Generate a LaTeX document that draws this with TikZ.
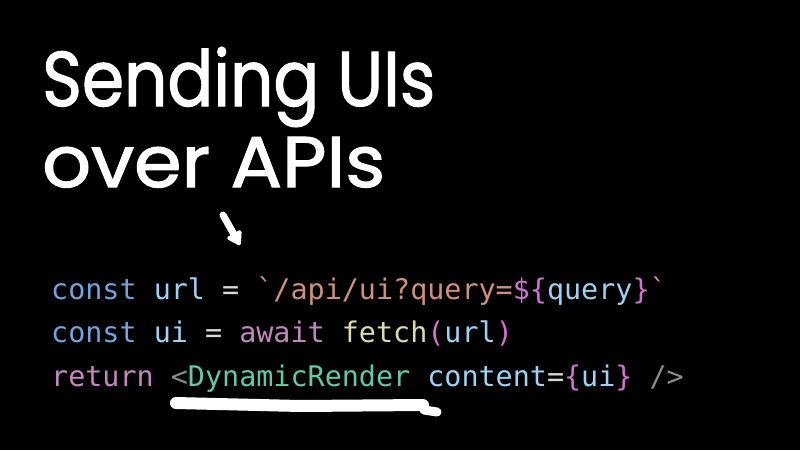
\documentclass[tikz,border=0pt]{standalone}
\usepackage{graphicx}
\usepackage{fontspec}
\setmonofont{DejaVu Sans Mono}
\newfontfamily\handfont{Poppins}[FakeBold=1.6]
\usetikzlibrary{arrows.meta}
\definecolor{ckw}{HTML}{6FA5DC}
\definecolor{cvar}{HTML}{9CD3F5}
\definecolor{cop}{HTML}{D8D8D8}
\definecolor{cstr}{HTML}{CE9178}
\definecolor{cmag}{HTML}{D46FD6}
\definecolor{cctl}{HTML}{C586C0}
\definecolor{cfn}{HTML}{DCDCAA}
\definecolor{cpunc}{HTML}{8A8A8A}
\definecolor{ctag}{HTML}{5EC9AC}
\begin{document}
\begin{tikzpicture}[x=1pt,y=-1pt,
  code/.style={anchor=base west,inner sep=0pt,font=\ttfamily\fontsize{28.4}{30}\selectfont},
  title/.style={anchor=base west,inner sep=0pt,text=white,font=\handfont},
  mark stroke/.style={white,line cap=round,line join=round}]
\fill[black] (0,0) rectangle (800,450);
\useasboundingbox (0,0) rectangle (800,450);
\node[title] (t1) at (42,106) {\resizebox{393pt}{59pt}{Sending UIs}};
\node[title] (t2) at (42,187) {\resizebox{343pt}{50pt}{over APIs}};
\coordinate (arA) at (223,215);
\coordinate (arB) at (240,245);
\draw[mark stroke,line width=7pt,-{Triangle[length=15pt,width=18pt,round]}] (arA) -- (arB);
\node[code] (l1) at (51,299) {\color{ckw}const {\color{cvar}url} {\color{cop}=} {\color{cstr}\char96/api/ui?query=}{\color{cmag}\$\{}{\color{cvar}query}{\color{cmag}\}}{\color{cstr}\char96}};
\node[code] (l2) at (51,342) {\color{ckw}const {\color{cvar}ui} {\color{cop}=} {\color{cctl}await} {\color{cfn}fetch}{\color{cmag}(}{\color{cvar}url}{\color{cmag})}};
\node[code] (l3) at (51,386) {\color{cctl}return {\color{cpunc}<}{\color{ctag}DynamicRender} {\color{cvar}content}{\color{cop}=}{\color{cmag}\{}{\color{cvar}ui}{\color{cmag}\}} {\color{cpunc}/>}};
\coordinate (u1) at (176,403);
\coordinate (u2) at (300,406);
\coordinate (u3) at (423,405);
\coordinate (u4) at (424,410);
\coordinate (u5) at (437,412);
\draw[mark stroke,line width=12pt] (u1) -- (u2) -- (u3);
\draw[mark stroke,line width=9pt] (u4) -- (u5);
\end{tikzpicture}
\end{document}
